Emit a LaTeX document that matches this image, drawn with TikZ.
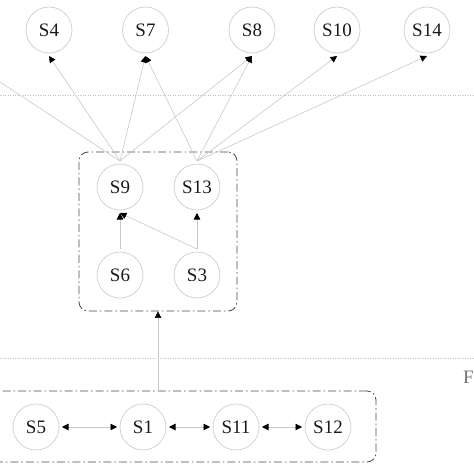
\documentclass[tikz,border=0pt]{standalone}
\usepackage{fontspec}
\setmainfont{Liberation Serif}
\usetikzlibrary{arrows.meta}
\definecolor{circ}{RGB}{205,205,205}
\definecolor{edge}{RGB}{200,200,200}
\definecolor{grpc}{RGB}{75,75,75}
\tikzset{
  st/.style={circle,draw=circ,line width=0.7pt,minimum size=46pt,inner sep=0pt,outer sep=3pt,font=\fontsize{19}{19}\selectfont,text=black!90},
  con/.style={draw=edge,line width=0.6pt,-{Triangle[length=6.5pt,width=6.5pt,color=black]}},
  bicon/.style={draw=edge,line width=0.6pt,{Triangle[length=6.5pt,width=6.5pt,color=black]}-{Triangle[length=6.5pt,width=6.5pt,color=black]}},
  grp/.style={draw=grpc,line width=0.8pt,rounded corners=9pt,dash pattern=on 8pt off 3pt on 1.5pt off 3pt,inner sep=0pt},
  sep/.style={draw=black!25,line width=0.5pt,dotted}
}
\begin{document}
\begin{tikzpicture}[x=1pt,y=-1pt]
\clip (0,0) rectangle (474,474);
% separators
\coordinate (l1) at (0,95); \coordinate (r1) at (474,95);
\coordinate (l2) at (0,358); \coordinate (r2) at (474,358);
\draw[sep] (l1) -- (r1);
\draw[sep] (l2) -- (r2);
% groups
\node[grp,minimum width=158pt,minimum height=159pt] (mg) at (158,231.5) {};
\node[grp,minimum width=396pt,minimum height=71pt] (bg) at (178,426.5) {};
% top nodes
\node[st] (s4) at (49,30) {S4};
\node[st] (s7) at (145.5,30) {S7};
\node[st] (s8) at (252,30) {S8};
\node[st] (s10) at (337,30) {S10};
\node[st] (s14) at (427,30) {S14};
% middle
\node[st] (s9) at (120,187) {S9};
\node[st] (s13) at (197,187) {S13};
\node[st] (s6) at (120,275) {S6};
\node[st] (s3) at (197,275) {S3};
% bottom
\node[st] (s5) at (36,427) {S5};
\node[st] (s1) at (143,427) {S1};
\node[st] (s11) at (236,427) {S11};
\node[st] (s12) at (328,427) {S12};
% label at right edge
\node[anchor=west,text=black!55,font=\fontsize{19}{19}\selectfont,inner sep=0pt] (fl) at (463,377) {F};
% offscreen left target
\coordinate (off) at (0,82);
% connectors
\draw[draw=edge,line width=0.6pt] (s9.north) -- (off);
\draw[con] (s9.north) -- (s4.south);
\draw[con] (s9.north) -- (s7.south);
\draw[con] (s9.north) -- (s8.south);
\draw[con] (s13.north) -- (s7.south);
\draw[con] (s13.north) -- (s8.south);
\draw[con] (s13.north) -- (s10.south);
\draw[con] (s13.north) -- (s14.south);
\draw[con] (s6) -- (s9);
\draw[con] (s3.north) -- (s9.south);
\draw[con] (s3) -- (s13);
\draw[con] (bg.north -| mg.south) -- (mg.south);
\draw[bicon] (s5) -- (s1);
\draw[bicon] (s1) -- (s11);
\draw[bicon] (s11) -- (s12);
\end{tikzpicture}
\end{document}
